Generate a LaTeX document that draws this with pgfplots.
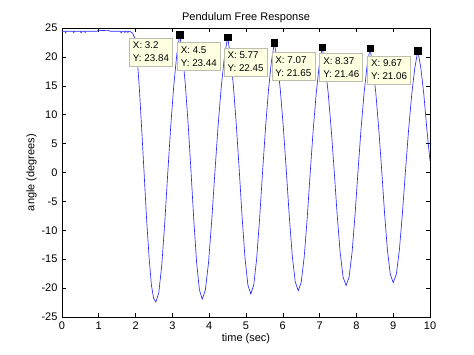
\documentclass[border=0pt]{standalone}
\usepackage{fontspec}
\setmainfont{Liberation Sans}
\usepackage{pgfplots}
\pgfplotsset{compat=1.18}
\definecolor{tipfill}{RGB}{255,255,225}
\definecolor{tipdraw}{RGB}{190,190,175}
\definecolor{mlblue}{RGB}{40,40,255}
\begin{document}
\begin{tikzpicture}
\useasboundingbox (-62bp,-38bp) rectangle (412bp,317bp);
\begin{axis}[
  at={(0,0)}, anchor=south west,
  scale only axis, width=368bp, height=289bp,
  xmin=0, xmax=10, ymin=-25, ymax=25,
  xtick={0,1,...,10}, ytick={-25,-20,...,25},
  tick align=inside, major tick length=4bp,
  axis line style={line width=0.6bp}, tick style={line width=0.6bp, black},
  font=\fontsize{11bp}{13bp}\selectfont,
  /pgf/number format/assume math mode=true,
  ticklabel style={font=\fontsize{11bp}{13bp}\selectfont},
  xticklabel style={yshift=-1bp},
  yticklabel style={xshift=-1bp},
  title={Pendulum Free Response},
  title style={yshift=-4bp},
  xlabel={time (sec)}, ylabel={angle (degrees)},
  xlabel style={yshift=3bp},
  ylabel style={yshift=-2bp},
  clip=true,
]
\addplot[mlblue, line width=0.65bp] coordinates {
(0,24.45)(0.08,24.45)(0.1,24.15)(0.12,24.45)(0.3,24.45)(0.32,24.2)(0.34,24.45)
(0.5,24.45)(0.52,24.15)(0.54,24.45)(0.61,24.45)(0.63,24.2)(0.65,24.45)(0.95,24.45)(1.0,24.65)(1.05,24.55)
(1.25,24.6)(1.3,24.45)(1.58,24.45)(1.61,24.15)(1.63,24.45)(1.69,24.45)(1.71,24.2)(1.73,24.45)
(1.77,24.45)(1.79,24.2)(1.81,24.45)(1.85,24.4)
(1.92,24.1)(1.98,23.2)(2.04,20.0)(2.10,14.8)(2.17,7.0)(2.23,0)(2.30,-8.2)(2.37,-15.0)(2.43,-19.5)(2.49,-21.8)(2.55,-22.4)
(2.631,-20.78)(2.7125,-15.93)(2.794,-8.53)(2.875,0.03)(2.956,8.12)(3.0375,15.05)(3.119,20.37)(3.20,23.84)
(3.276,20.41)(3.3525,15.15)(3.429,8.29)(3.505,0.28)(3.581,-8.18)(3.6575,-15.50)(3.734,-20.30)(3.81,-21.9)
(3.896,-20.31)(3.9825,-15.55)(4.069,-8.30)(4.155,0.09)(4.241,8.02)(4.3275,14.83)(4.414,20.04)(4.50,23.44)
(4.579,20.11)(4.6575,15.00)(4.736,8.33)(4.815,0.55)(4.894,-7.67)(4.9725,-14.78)(5.051,-19.44)(5.13,-21.0)
(5.21,-19.48)(5.29,-14.92)(5.37,-7.96)(5.45,0.07)(5.53,7.68)(5.61,14.19)(5.69,19.19)(5.77,22.45)
(5.851,19.23)(5.9325,14.30)(6.014,7.86)(6.095,0.36)(6.176,-7.58)(6.2575,-14.44)(6.339,-18.95)(6.42,-20.45)
(6.501,-18.98)(6.5825,-14.56)(6.664,-7.82)(6.745,-0.03)(6.826,7.34)(6.9075,13.65)(6.989,18.49)(7.07,21.65)
(7.151,18.56)(7.2325,13.82)(7.314,7.64)(7.395,0.43)(7.476,-7.19)(7.5575,-13.78)(7.639,-18.11)(7.72,-19.55)
(7.801,-18.11)(7.8825,-13.81)(7.964,-7.25)(8.045,0.34)(8.126,7.52)(8.2075,13.67)(8.289,18.38)(8.37,21.46)
(8.449,18.42)(8.5275,13.76)(8.606,7.69)(8.685,0.60)(8.764,-6.90)(8.8425,-13.38)(8.921,-17.63)(9.00,-19.05)
(9.084,-17.65)(9.1675,-13.43)(9.251,-7.02)(9.335,0.40)(9.419,7.42)(9.5025,13.44)(9.586,18.06)(9.67,21.06)
(9.751,18.08)(9.8325,13.51)(9.914,7.54)(10.0,2.0)
};
\addplot[only marks, mark=square*, mark size=3.2bp, black] coordinates {
(3.2,23.84)(4.5,23.44)(5.77,22.45)(7.07,21.65)(8.37,21.46)(9.67,21.06)
};
\tikzset{tip/.style={anchor=north east, fill=tipfill, draw=tipdraw, line width=0.6bp,
  align=left, inner xsep=3.5bp, inner ysep=4bp, font=\fontsize{9.8bp}{13bp}\selectfont,
  xshift=-7bp, yshift=-5bp}}
\node[tip, yshift=2bp] at (axis cs:3.2,23.84) {X: 3.2\\Y: 23.84};
\node[tip] at (axis cs:4.5,23.44) {X: 4.5\\Y: 23.44};
\node[tip] at (axis cs:5.77,22.45) {X: 5.77\\Y: 22.45};
\node[tip] at (axis cs:7.07,21.65) {X: 7.07\\Y: 21.65};
\node[tip] at (axis cs:8.37,21.46) {X: 8.37\\Y: 21.46};
\node[tip] at (axis cs:9.67,21.06) {X: 9.67\\Y: 21.06};
\end{axis}
\end{tikzpicture}
\end{document}
